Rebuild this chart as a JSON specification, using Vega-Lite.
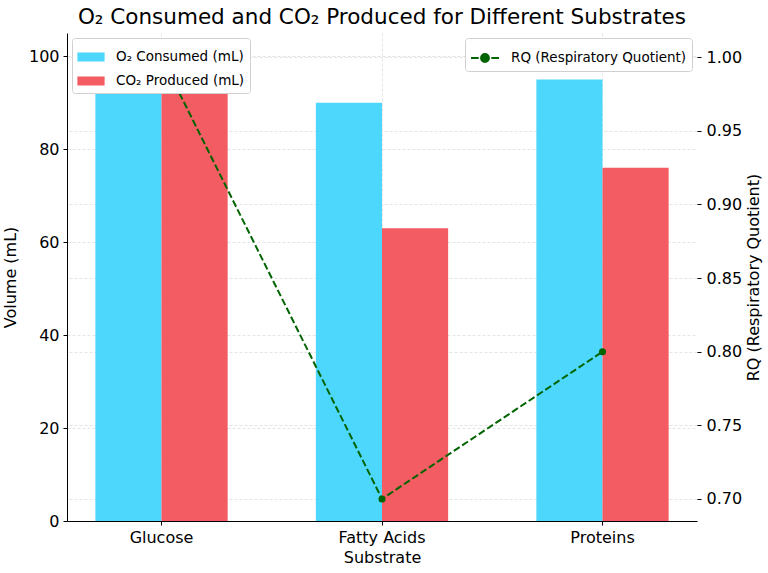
{
  "$schema": "https://vega.github.io/schema/vega-lite/v6.json",
  "width": 630,
  "height": 488,
  "autosize": "none",
  "padding": {"left": 67, "top": 33, "right": 71, "bottom": 52},
  "title": {"text": "O₂ Consumed and CO₂ Produced for Different Substrates", "fontSize": 21.5, "font": "DejaVu Sans", "fontWeight": "normal", "color": "black", "offset": 5},
  "config": {
    "font": "DejaVu Sans",
    "view": {"stroke": null},
    "axis": {"labelFontSize": 16, "titleFontSize": 16, "labelColor": "black", "titleColor": "black", "titleFontWeight": "normal", "domainColor": "black", "tickColor": "black", "gridColor": "#dddddd", "gridDash": [3, 2], "gridWidth": 0.8, "tickSize": 4, "labelFont": "DejaVu Sans", "titleFont": "DejaVu Sans"},
    "legend": {"labelFont": "DejaVu Sans", "labelFontSize": 13.5, "labelColor": "black", "fillColor": "white", "strokeColor": "#d0d0d0", "cornerRadius": 3, "padding": 5, "offset": 5, "labelLimit": 300, "labelOffset": 11}
  },
  "datasets": {
    "vol": [
      {"Substrate": "Glucose", "Series": "O₂ Consumed (mL)", "Volume": 100},
      {"Substrate": "Glucose", "Series": "CO₂ Produced (mL)", "Volume": 100},
      {"Substrate": "Fatty Acids", "Series": "O₂ Consumed (mL)", "Volume": 90},
      {"Substrate": "Fatty Acids", "Series": "CO₂ Produced (mL)", "Volume": 63},
      {"Substrate": "Proteins", "Series": "O₂ Consumed (mL)", "Volume": 95},
      {"Substrate": "Proteins", "Series": "CO₂ Produced (mL)", "Volume": 76}
    ],
    "rq": [
      {"Substrate": "Glucose", "RQ": 1.0},
      {"Substrate": "Fatty Acids", "RQ": 0.7},
      {"Substrate": "Proteins", "RQ": 0.8}
    ]
  },
  "layer": [
    {
      "data": {"name": "vol"},
      "mark": {"type": "bar"},
      "encoding": {
        "x": {"field": "Substrate", "type": "nominal", "sort": ["Glucose", "Fatty Acids", "Proteins"], "scale": {"paddingInner": 0.4, "paddingOuter": 0.1286}, "axis": {"title": "Substrate", "labelAngle": 0, "grid": true, "bandPosition": 0.5, "labelPadding": 4, "titlePadding": 4}},
        "xOffset": {"field": "Series", "type": "nominal", "sort": ["O₂ Consumed (mL)", "CO₂ Produced (mL)"]},
        "y": {"field": "Volume", "type": "quantitative", "scale": {"domain": [0, 105], "nice": false}, "axis": {"title": "Volume (mL)", "values": [0, 20, 40, 60, 80, 100], "grid": true, "titlePadding": 10, "labelPadding": 4}},
        "color": {"field": "Series", "type": "nominal", "sort": ["O₂ Consumed (mL)", "CO₂ Produced (mL)"], "scale": {"domain": ["O₂ Consumed (mL)", "CO₂ Produced (mL)"], "range": ["#4DD7FD", "#F25C62"]}, "legend": {"title": null, "orient": "top-left", "symbolType": "M-1,-0.33H1V0.33H-1Z", "symbolSize": 740, "symbolStrokeWidth": 0, "rowPadding": 3}}
      }
    },
    {
      "data": {"name": "rq"},
      "mark": {"type": "line", "strokeDash": [7, 3], "strokeWidth": 2, "point": {"filled": true, "size": 50}},
      "encoding": {
        "x": {"field": "Substrate", "type": "nominal", "sort": ["Glucose", "Fatty Acids", "Proteins"]},
        "y": {"field": "RQ", "type": "quantitative", "scale": {"domain": [0.685, 1.0165], "nice": false, "zero": false}, "axis": {"orient": "right", "title": "RQ (Respiratory Quotient)", "values": [0.7, 0.75, 0.8, 0.85, 0.9, 0.95, 1.0], "format": ".2f", "grid": true, "domain": false, "titleAngle": 270, "titleBaseline": "top", "titlePadding": 4, "labelPadding": 5}},
        "color": {"datum": "RQ (Respiratory Quotient)", "type": "nominal", "scale": {"range": ["#006400"]}, "legend": {"title": null, "orient": "top-right", "symbolType": "M-1,0H-0.45M0.45,0H1M0.28,0A0.28,0.28 0 1,1 -0.28,0A0.28,0.28 0 1,1 0.28,0Z", "symbolSize": 784, "symbolStrokeWidth": 2}}
      }
    }
  ],
  "resolve": {"scale": {"y": "independent", "color": "independent"}}
}
